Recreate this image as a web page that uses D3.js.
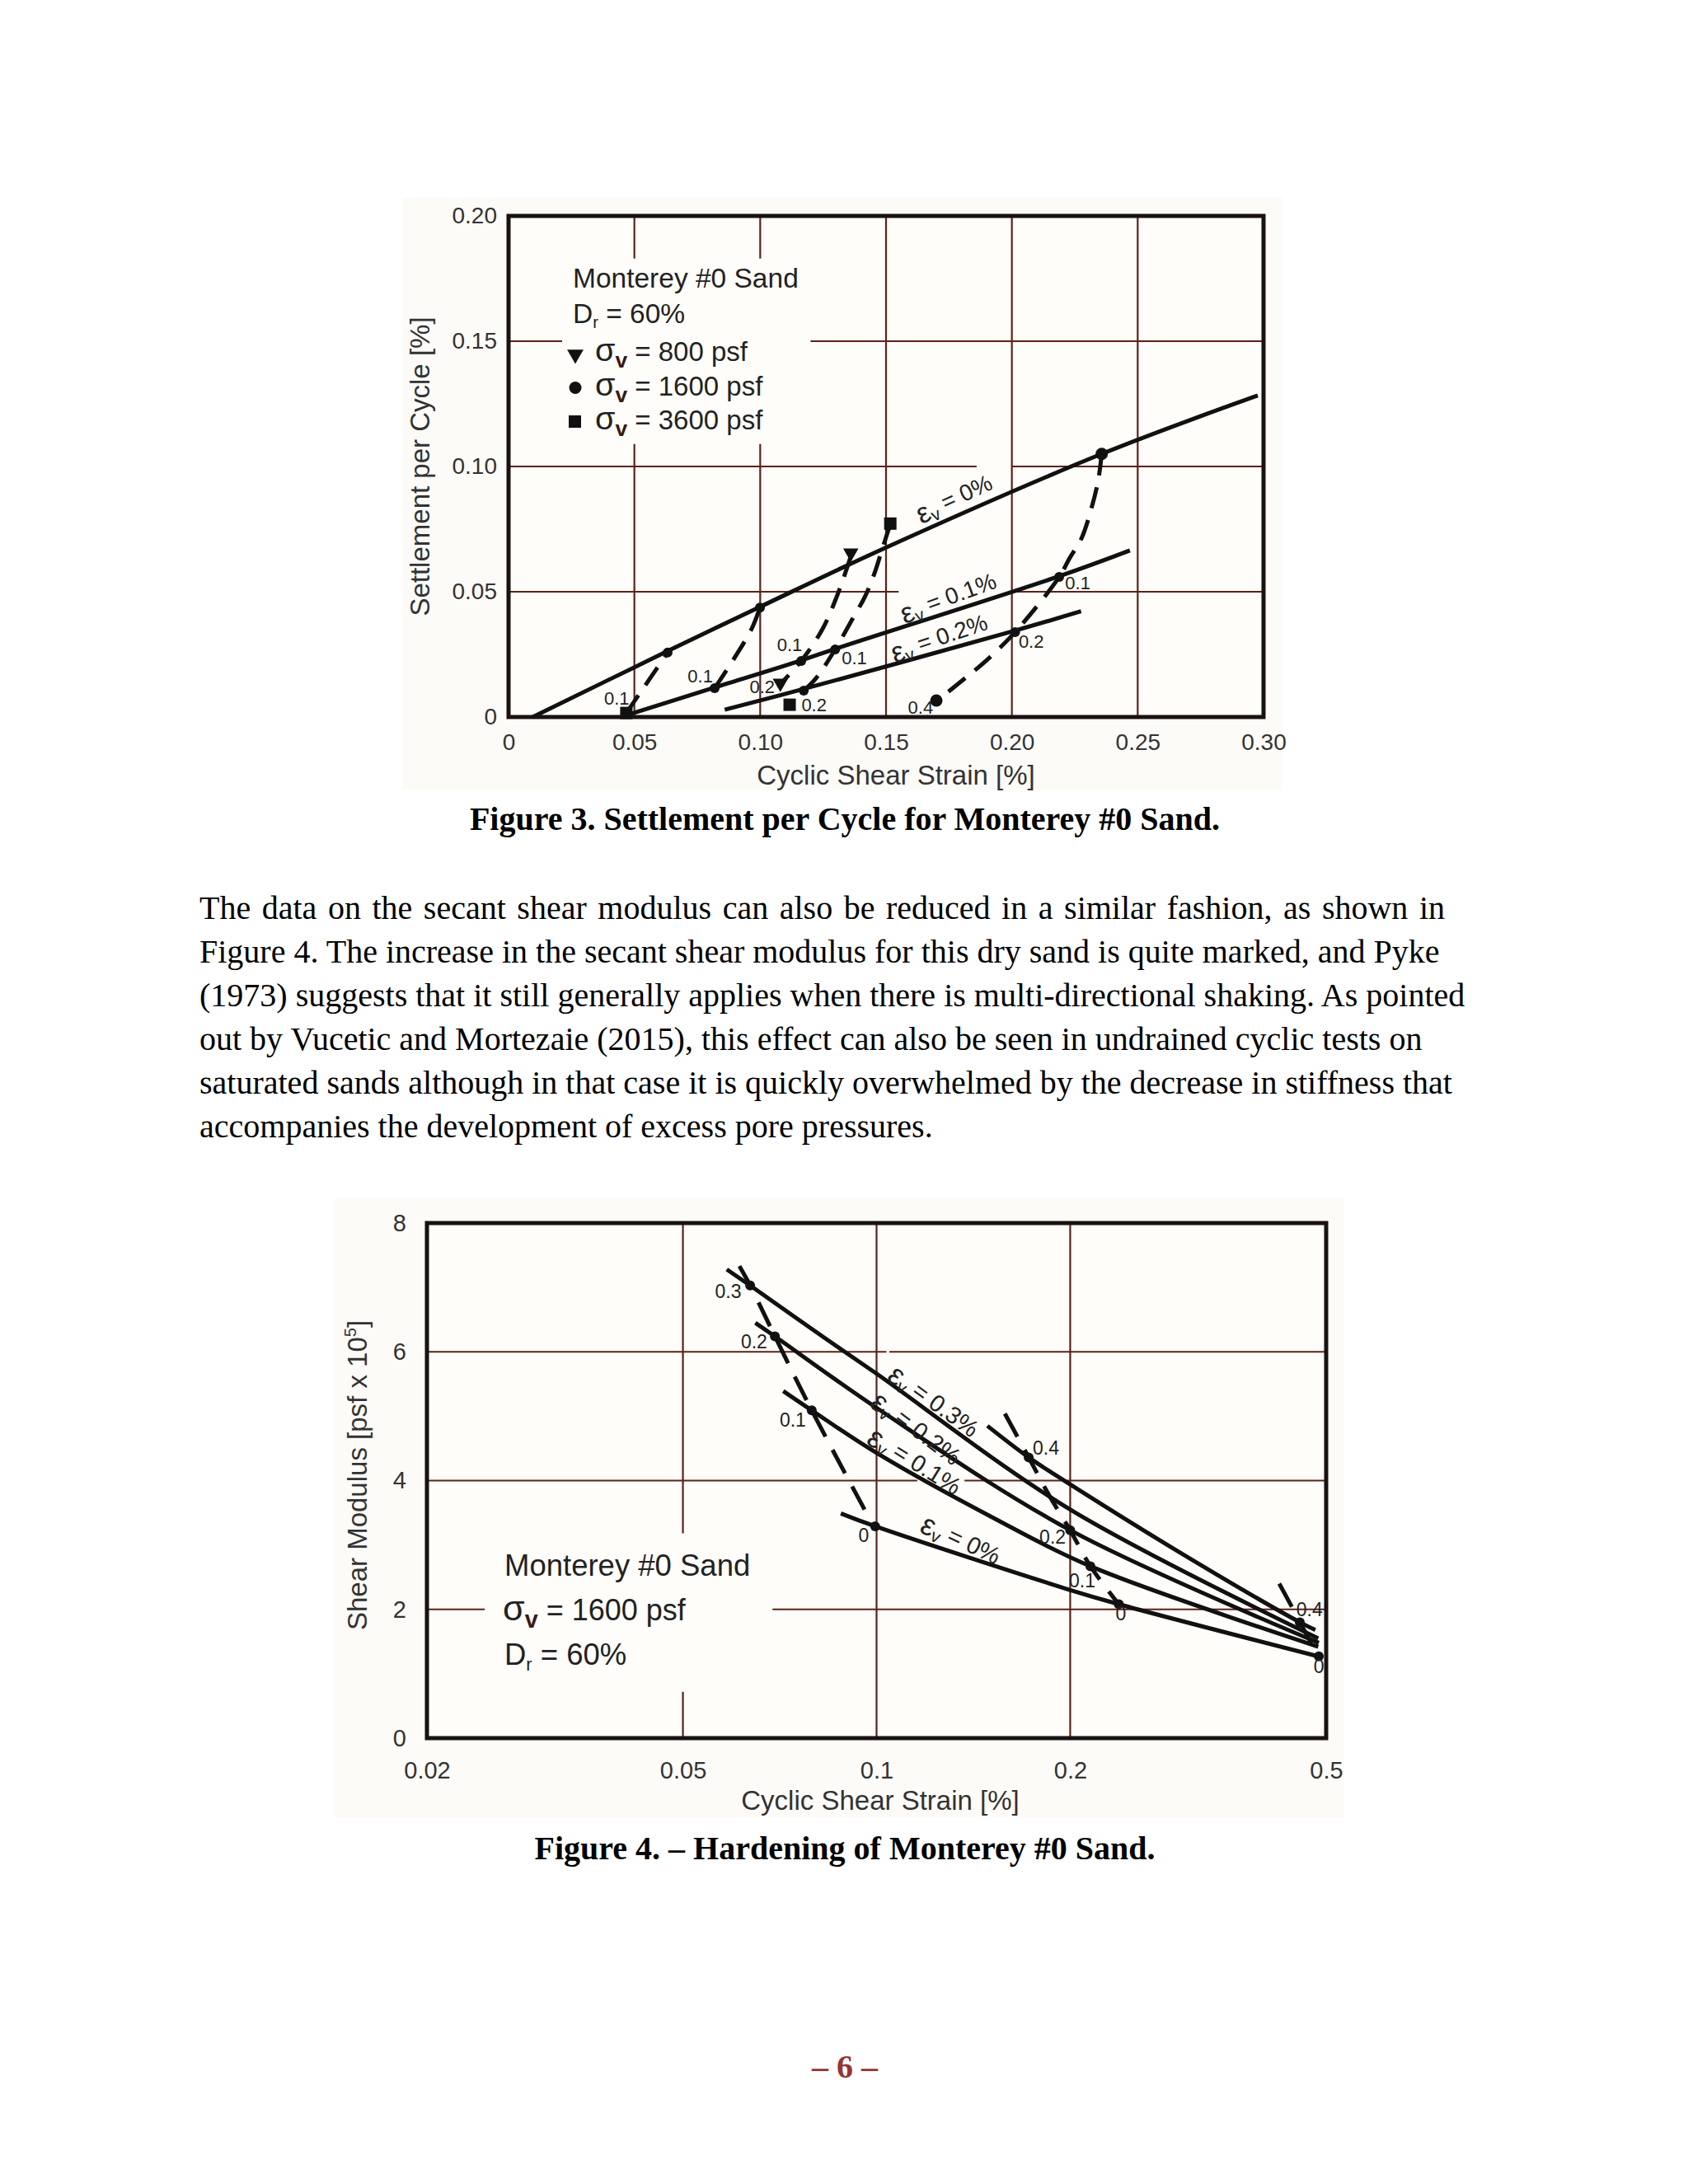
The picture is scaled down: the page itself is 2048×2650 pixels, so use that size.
<!DOCTYPE html>
<html>
<head>
<meta charset="utf-8">
<script src="https://cdn.jsdelivr.net/npm/d3@7"></script>
<style>
  body { margin: 0; background: #fff; }
  svg { display: block; }
</style>
</head>
<body>
<svg id="page" width="2048" height="2650"></svg>
<script>
// ---------- data: Figure 3 (settlement per cycle) ----------
const fig3XTicks = [0, 0.05, 0.10, 0.15, 0.20, 0.25, 0.30];
const fig3XLabels = ["0", "0.05", "0.10", "0.15", "0.20", "0.25", "0.30"];
const fig3YTicks = [0, 0.05, 0.10, 0.15, 0.20];
const fig3YLabels = ["0", "0.05", "0.10", "0.15", "0.20"];

// grid lines, broken where the original leaves room for text
const fig3GridV = [
  {v: 0.05, segs: [[0, 0.109], [0.183, 0.20]]},
  {v: 0.10, segs: [[0, 0.109], [0.183, 0.20]]},
  {v: 0.15, segs: [[0, 0.20]]},
  {v: 0.20, segs: [[0, 0.20]]},
  {v: 0.25, segs: [[0, 0.20]]}
];
const fig3GridH = [
  {v: 0.05, segs: [[0, 0.155], [0.20, 0.30]]},
  {v: 0.10, segs: [[0, 0.186], [0.20, 0.30]]},
  {v: 0.15, segs: [[0, 0.0213], [0.12, 0.30]]}
];

// constant volumetric strain lines
const fig3Ev0 = [[0.0096, 0], [0.063, 0.0262], [0.100, 0.0440], [0.149, 0.0672], [0.2357, 0.1050], [0.2977, 0.1283]];
const fig3Ev01 = [[0.0481, 0.0011], [0.0819, 0.0118], [0.1163, 0.0226], [0.1298, 0.0272], [0.2188, 0.0562], [0.2469, 0.0665]];
const fig3Ev02 = [[0.0859, 0.0029], [0.1173, 0.0112], [0.2013, 0.0345], [0.2275, 0.0422]];

// dashed test paths
const fig3DashSqA = [[0.0468, 0.0016], [0.0632, 0.0257]];
const fig3DashB = [[0.0819, 0.0115], [0.0894, 0.0230], [0.0966, 0.0352], [0.0999, 0.0437]];
const fig3DashTri = [[0.136, 0.0641], [0.1309, 0.0493], [0.1248, 0.0352], [0.1163, 0.0224], [0.108, 0.0132]];
const fig3DashSqB = [[0.1517, 0.077], [0.1484, 0.0668], [0.1457, 0.0582], [0.1418, 0.0484], [0.1363, 0.0385], [0.1298, 0.027], [0.1222, 0.0155], [0.1173, 0.0105]];
const fig3DashCirc = [[0.2357, 0.1050], [0.2343, 0.0944], [0.2313, 0.0822], [0.2277, 0.0714], [0.2230, 0.0635], [0.2188, 0.0559], [0.2013, 0.0339], [0.1897, 0.0224], [0.1818, 0.0158], [0.1736, 0.0092], [0.170, 0.0066]];

const fig3Tri = [[0.136, 0.0655], [0.108, 0.0135]];
const fig3Sq = [[0.0468, 0.0016], [0.1517, 0.0772], [0.1117, 0.0049]];
const fig3Circ = [[0.170, 0.0066], [0.2357, 0.1050]];
const fig3Dots = [[0.0632, 0.0257], [0.0999, 0.0437], [0.0819, 0.0115], [0.1163, 0.0224], [0.1298, 0.027], [0.1173, 0.0105], [0.2188, 0.0559], [0.2013, 0.0339]];

const fig3PointLabels = [
  {x: 0.043, y: 0.0073, t: "0.1"}, {x: 0.0762, y: 0.0162, t: "0.1"},
  {x: 0.1117, y: 0.0287, t: "0.1"}, {x: 0.1374, y: 0.0234, t: "0.1"},
  {x: 0.1008, y: 0.0120, t: "0.2"}, {x: 0.1214, y: 0.0048, t: "0.2"},
  {x: 0.1637, y: 0.0037, t: "0.4"}, {x: 0.2262, y: 0.0534, t: "0.1"},
  {x: 0.2077, y: 0.0300, t: "0.2"}
];
const fig3CurveLabels = [
  {x: 0.1769, y: 0.0875, a: -24.6, t: " = 0%"},
  {x: 0.1746, y: 0.0480, a: -20, t: " = 0.1%"},
  {x: 0.1710, y: 0.0319, a: -18.5, t: " = 0.2%"}
];
const fig3Legend = ["800", "1600", "3600"];

// ---------- data: Figure 4 (hardening) ----------
const fig4XTicks = [0.02, 0.05, 0.1, 0.2, 0.5];
const fig4XLabels = ["0.02", "0.05", "0.1", "0.2", "0.5"];
const fig4YTicks = [0, 2, 4, 6, 8];
const fig4YLabels = ["0", "2", "4", "6", "8"];

const fig4GridV = [
  {v: 0.05, segs: [[0, 0.72], [3.18, 8]]},
  {v: 0.1, segs: [[0, 8]]},
  {v: 0.2, segs: [[0, 8]]}
];
const fig4GridH = [
  {v: 2, segs: [[0.02, 0.0246], [0.0689, 0.5]]},
  {v: 4, segs: [[0.02, 0.1157], [0.137, 0.5]]},
  {v: 6, segs: [[0.02, 0.1036], [0.1047, 0.5]]}
];

const fig4Ev04 = [[0.1487, 4.85], [0.1724, 4.36], [0.1986, 3.96], [0.30, 2.85], [0.455, 1.80], [0.481, 1.68]];
const fig4Ev03 = [[0.0585, 7.28], [0.0636, 7.03], [0.0829, 6.22], [0.10, 5.66], [0.20, 3.55], [0.486, 1.55]];
const fig4Ev02 = [[0.0648, 6.45], [0.0695, 6.24], [0.10, 5.13], [0.20, 3.23], [0.487, 1.48]];
const fig4Ev01 = [[0.0716, 5.39], [0.0793, 5.09], [0.10, 4.43], [0.15, 3.45], [0.215, 2.67], [0.486, 1.42]];
const fig4Ev0 = [[0.0880, 3.49], [0.0995, 3.29], [0.1986, 2.31], [0.238, 2.08], [0.486, 1.27]];

const fig4DashL = [[0.0612, 7.33], [0.0636, 7.03], [0.0695, 6.24], [0.0793, 5.09], [0.097, 3.45]];
const fig4DashM = [[0.1583, 5.04], [0.1724, 4.36], [0.186, 3.75], [0.2, 3.23], [0.215, 2.67], [0.238, 2.08]];
const fig4DashR = [[0.4227, 2.40], [0.4424, 2.035], [0.455, 1.80], [0.487, 1.27]];

const fig4Dots = [[0.0636, 7.03], [0.0695, 6.24], [0.0793, 5.09], [0.0995, 3.29], [0.1724, 4.36], [0.2, 3.23], [0.215, 2.67], [0.238, 2.08], [0.455, 1.80], [0.487, 1.27]];
const fig4PointLabels = [
  {x: 0.0588, y: 6.94, t: "0.3"}, {x: 0.0645, y: 6.16, t: "0.2"},
  {x: 0.0741, y: 4.94, t: "0.1"}, {x: 0.0955, y: 3.15, t: "0"},
  {x: 0.1834, y: 4.51, t: "0.4"}, {x: 0.1878, y: 3.12, t: "0.2"},
  {x: 0.2088, y: 2.44, t: "0.1"}, {x: 0.2398, y: 1.93, t: "0"},
  {x: 0.471, y: 2.00, t: "0.4"}, {x: 0.487, y: 1.11, t: "0"}
];
const fig4CurveLabels = [
  {x: 0.1228, y: 5.235, a: 36, t: " = 0.3%"},
  {x: 0.1154, y: 4.81, a: 37, t: " = 0.2%"},
  {x: 0.1147, y: 4.30, a: 32, t: " = 0.1%"},
  {x: 0.1353, y: 3.085, a: 25, t: " = 0%"}
];

// ---------- page text ----------
const paragraph = [
  "The data on the secant shear modulus can also be reduced in a similar fashion, as shown in",
  "Figure 4. The increase in the secant shear modulus for this dry sand is quite marked, and Pyke",
  "(1973) suggests that it still generally applies when there is multi-directional shaking. As pointed",
  "out by Vucetic and Mortezaie (2015), this effect can also be seen in undrained cyclic tests on",
  "saturated sands although in that case it is quickly overwhelmed by the decrease in stiffness that",
  "accompanies the development of excess pore pressures."
];
const caption3 = "Figure 3. Settlement per Cycle for Monterey #0 Sand.";
const caption4 = "Figure 4. \u2013 Hardening of Monterey #0 Sand.";
const pageNumber = "\u2013 6 \u2013";

// ---------- styles ----------
const sans = "'Liberation Sans', Arial, Helvetica, sans-serif";
const serif = "'Liberation Serif', 'Times New Roman', serif";
const imgBg = "#fdfbf8";
const gridColor = "#5a2218";
const inkColor = "#111";
const textColor = "#333";

const svg = d3.select("#page");
svg.append("rect").attr("width", 2048).attr("height", 2650).attr("fill", "#fff");

function drawGrid(g, gridV, gridH, x, y) {
  gridV.forEach(d => d.segs.forEach(s => {
    g.append("line")
      .attr("x1", x(d.v)).attr("x2", x(d.v))
      .attr("y1", y(s[0])).attr("y2", y(s[1]))
      .attr("stroke", gridColor).attr("stroke-width", 2.2);
  }));
  gridH.forEach(d => d.segs.forEach(s => {
    g.append("line")
      .attr("x1", x(s[0])).attr("x2", x(s[1]))
      .attr("y1", y(d.v)).attr("y2", y(d.v))
      .attr("stroke", gridColor).attr("stroke-width", 2.2);
  }));
}

function drawCurve(g, data, x, y, dashed) {
  const line = d3.line()
    .x(d => x(d[0]))
    .y(d => y(d[1]))
    .curve(d3.curveCatmullRom.alpha(0.5));
  g.append("path")
    .attr("d", line(data))
    .attr("fill", "none")
    .attr("stroke", inkColor)
    .attr("stroke-width", 5)
    .attr("stroke-dasharray", dashed ? dashed : null);
}

function curveLabel(g, d, x, y, size) {
  const t = g.append("text")
    .attr("transform", `translate(${x(d.x)},${y(d.y)}) rotate(${d.a})`)
    .attr("text-anchor", "middle")
    .attr("dominant-baseline", "central")
    .attr("font-family", sans)
    .attr("font-size", size)
    .attr("fill", "#222");
  t.append("tspan").attr("font-size", size * 1.25).text("\u03b5");
  t.append("tspan").attr("font-size", size * 0.75).attr("dy", size * 0.3).text("v");
  t.append("tspan").attr("dy", -size * 0.3).text(d.t);
}

function sigmaText(g, xPos, yPos, size, rest) {
  const t = g.append("text")
    .attr("x", xPos).attr("y", yPos)
    .attr("font-family", sans).attr("font-size", size).attr("fill", "#222");
  t.append("tspan").attr("font-size", size * 1.2).text("\u03c3");
  t.append("tspan").attr("font-size", size * 0.8).attr("font-weight", "bold")
    .attr("fill", "#3a1a14").attr("dy", size * 0.25).text("v");
  t.append("tspan").attr("dy", -size * 0.25).text(rest);
}

function drText(g, xPos, yPos, size) {
  const t = g.append("text")
    .attr("x", xPos).attr("y", yPos)
    .attr("font-family", sans).attr("font-size", size).attr("fill", "#222");
  t.append("tspan").text("D");
  t.append("tspan").attr("font-size", size * 0.6).attr("dy", size * 0.18).text("r");
  t.append("tspan").attr("dy", -size * 0.18).text(" = 60%");
}

function styleAxis(g, size) {
  g.select(".domain").remove();
  g.selectAll("text")
    .attr("font-family", sans)
    .attr("font-size", size)
    .attr("fill", textColor);
}

// =================== Figure 3 ===================
const x3 = d3.scaleLinear().domain([0, 0.30]).range([617, 1533]);
const y3 = d3.scaleLinear().domain([0, 0.20]).range([870, 262]);
const f3 = svg.append("g").attr("id", "fig3");

f3.append("rect").attr("x", 488).attr("y", 240).attr("width", 1068).attr("height", 718).attr("fill", imgBg);
f3.append("rect")
  .attr("x", x3(0)).attr("y", y3(0.20))
  .attr("width", x3(0.30) - x3(0)).attr("height", y3(0) - y3(0.20))
  .attr("fill", "#fffdf9");

drawGrid(f3, fig3GridV, fig3GridH, x3, y3);

f3.append("rect")
  .attr("x", x3(0)).attr("y", y3(0.20))
  .attr("width", x3(0.30) - x3(0)).attr("height", y3(0) - y3(0.20))
  .attr("fill", "none").attr("stroke", "#1a1210").attr("stroke-width", 5);

f3.append("g").attr("transform", `translate(0,${y3(0)})`)
  .call(d3.axisBottom(x3).tickValues(fig3XTicks).tickSize(0).tickPadding(20)
    .tickFormat((d, i) => fig3XLabels[i]))
  .call(g => styleAxis(g, 28));
f3.append("g").attr("transform", `translate(${x3(0)},0)`)
  .call(d3.axisLeft(y3).tickValues(fig3YTicks).tickSize(0).tickPadding(14)
    .tickFormat((d, i) => fig3YLabels[i]))
  .call(g => styleAxis(g, 28));

[fig3Ev0, fig3Ev01, fig3Ev02].forEach(d => drawCurve(f3, d, x3, y3, null));
[fig3DashSqA, fig3DashB, fig3DashTri, fig3DashSqB, fig3DashCirc].forEach(d => drawCurve(f3, d, x3, y3, "26,15"));

f3.selectAll(".dot").data(fig3Dots).join("circle")
  .attr("cx", d => x3(d[0])).attr("cy", d => y3(d[1])).attr("r", 6).attr("fill", inkColor);
f3.selectAll(".tri").data(fig3Tri).join("path")
  .attr("d", d3.symbol(d3.symbolTriangle, 150))
  .attr("transform", d => `translate(${x3(d[0])},${y3(d[1])}) rotate(180)`)
  .attr("fill", inkColor);
f3.selectAll(".sq").data(fig3Sq).join("rect")
  .attr("x", d => x3(d[0]) - 7.5).attr("y", d => y3(d[1]) - 7.5)
  .attr("width", 15).attr("height", 15).attr("fill", inkColor);
f3.selectAll(".circ").data(fig3Circ).join("circle")
  .attr("cx", d => x3(d[0])).attr("cy", d => y3(d[1])).attr("r", 7.5).attr("fill", inkColor);

f3.selectAll(".plabel").data(fig3PointLabels).join("text")
  .attr("x", d => x3(d.x)).attr("y", d => y3(d.y))
  .attr("text-anchor", "middle").attr("dominant-baseline", "central")
  .attr("font-family", sans).attr("font-size", 22).attr("fill", "#222")
  .text(d => d.t);

fig3CurveLabels.forEach(d => curveLabel(f3, d, x3, y3, 28));

// legend
f3.append("text").attr("x", 695).attr("y", 349)
  .attr("font-family", sans).attr("font-size", 33.5).attr("fill", "#222")
  .text("Monterey #0 Sand");
drText(f3, 695, 392, 33.5);
const legY3 = d3.scalePoint().domain(fig3Legend).range([438, 521]);
f3.selectAll(".legtri").data([fig3Legend[0]]).join("path")
  .attr("d", d3.symbol(d3.symbolTriangle, 170))
  .attr("transform", d => `translate(698,${legY3(d) - 8}) rotate(180)`)
  .attr("fill", inkColor);
f3.append("circle").attr("cx", 698).attr("cy", legY3(fig3Legend[1]) - 9).attr("r", 7.5).attr("fill", inkColor);
f3.append("rect").attr("x", 690).attr("y", legY3(fig3Legend[2]) - 17).attr("width", 15).attr("height", 15).attr("fill", inkColor);
fig3Legend.forEach(v => sigmaText(f3, 722, legY3(v), 33, ` = ${v} psf`));

// axis titles
f3.append("text").attr("x", 1087).attr("y", 952).attr("text-anchor", "middle")
  .attr("font-family", sans).attr("font-size", 33).attr("fill", textColor)
  .text("Cyclic Shear Strain [%]");
f3.append("text").attr("transform", "translate(521,566) rotate(-90)").attr("text-anchor", "middle")
  .attr("font-family", sans).attr("font-size", 33).attr("fill", textColor)
  .text("Settlement per Cycle [%]");

// caption
svg.append("text").attr("x", 1025).attr("y", 1007).attr("text-anchor", "middle")
  .attr("font-family", serif).attr("font-size", 40).attr("font-weight", "bold").attr("fill", "#000")
  .text(caption3);

// =================== paragraph ===================
const paraLeft = 242;
const paraRight = 1753;
const para = svg.append("g").selectAll("text").data(paragraph).join("text")
  .attr("x", paraLeft).attr("y", (d, i) => 1115 + i * 53)
  .attr("font-family", serif).attr("font-size", 40).attr("fill", "#000")
  .text(d => d);
// the first line is justified to the right margin in the original
para.filter((d, i) => i === 0).each(function(d) {
  const extra = (paraRight - paraLeft) - this.getComputedTextLength();
  const gaps = d.split(" ").length - 1;
  if (extra > 0) d3.select(this).attr("word-spacing", extra / gaps);
});

// =================== Figure 4 ===================
const x4 = d3.scaleLog().domain([0.02, 0.5]).range([518, 1609]);
const y4 = d3.scaleLinear().domain([0, 8]).range([2109, 1484]);
const f4 = svg.append("g").attr("id", "fig4");

f4.append("rect").attr("x", 405).attr("y", 1453).attr("width", 1226).attr("height", 752).attr("fill", imgBg);
f4.append("rect")
  .attr("x", x4(0.02)).attr("y", y4(8))
  .attr("width", x4(0.5) - x4(0.02)).attr("height", y4(0) - y4(8))
  .attr("fill", "#fffdf9");

drawGrid(f4, fig4GridV, fig4GridH, x4, y4);

f4.append("rect")
  .attr("x", x4(0.02)).attr("y", y4(8))
  .attr("width", x4(0.5) - x4(0.02)).attr("height", y4(0) - y4(8))
  .attr("fill", "none").attr("stroke", "#1a1210").attr("stroke-width", 5);

f4.append("g").attr("transform", `translate(0,${y4(0)})`)
  .call(d3.axisBottom(x4).tickValues(fig4XTicks).tickSize(0).tickPadding(28)
    .tickFormat((d, i) => fig4XLabels[i]))
  .call(g => styleAxis(g, 29));
f4.append("g").attr("transform", `translate(${x4(0.02)},0)`)
  .call(d3.axisLeft(y4).tickValues(fig4YTicks).tickSize(0).tickPadding(25)
    .tickFormat((d, i) => fig4YLabels[i]))
  .call(g => styleAxis(g, 29));

[fig4Ev04, fig4Ev03, fig4Ev02, fig4Ev01, fig4Ev0].forEach(d => drawCurve(f4, d, x4, y4, null));
[fig4DashL, fig4DashM, fig4DashR].forEach(d => drawCurve(f4, d, x4, y4, "32,18"));

f4.selectAll(".dot").data(fig4Dots).join("circle")
  .attr("cx", d => x4(d[0])).attr("cy", d => y4(d[1])).attr("r", 6).attr("fill", inkColor);

f4.selectAll(".plabel").data(fig4PointLabels).join("text")
  .attr("x", d => x4(d.x)).attr("y", d => y4(d.y))
  .attr("text-anchor", "middle").attr("dominant-baseline", "central")
  .attr("font-family", sans).attr("font-size", 23).attr("fill", "#222")
  .text(d => d.t);

fig4CurveLabels.forEach(d => curveLabel(f4, d, x4, y4, 29));

// legend
f4.append("text").attr("x", 612).attr("y", 1912)
  .attr("font-family", sans).attr("font-size", 36.5).attr("fill", "#222")
  .text("Monterey #0 Sand");
sigmaText(f4, 610, 1966, 36, " = 1600 psf");
drText(f4, 612, 2020, 36.5);

// axis titles
f4.append("text").attr("x", 1068).attr("y", 2196).attr("text-anchor", "middle")
  .attr("font-family", sans).attr("font-size", 33).attr("fill", textColor)
  .text("Cyclic Shear Strain [%]");
const yt4 = f4.append("text").attr("transform", "translate(445,1790) rotate(-90)").attr("text-anchor", "middle")
  .attr("font-family", sans).attr("font-size", 33).attr("fill", textColor);
yt4.append("tspan").text("Shear Modulus [psf x 10");
yt4.append("tspan").attr("font-size", 20).attr("dy", -13).text("5");
yt4.append("tspan").attr("dy", 13).text("]");

// caption
svg.append("text").attr("x", 1025).attr("y", 2256).attr("text-anchor", "middle")
  .attr("font-family", serif).attr("font-size", 40).attr("font-weight", "bold").attr("fill", "#000")
  .text(caption4);

// page number
svg.append("text").attr("x", 1025).attr("y", 2521).attr("text-anchor", "middle")
  .attr("font-family", serif).attr("font-size", 40).attr("font-weight", "bold").attr("fill", "#943634")
  .text(pageNumber);
</script>
</body>
</html>
